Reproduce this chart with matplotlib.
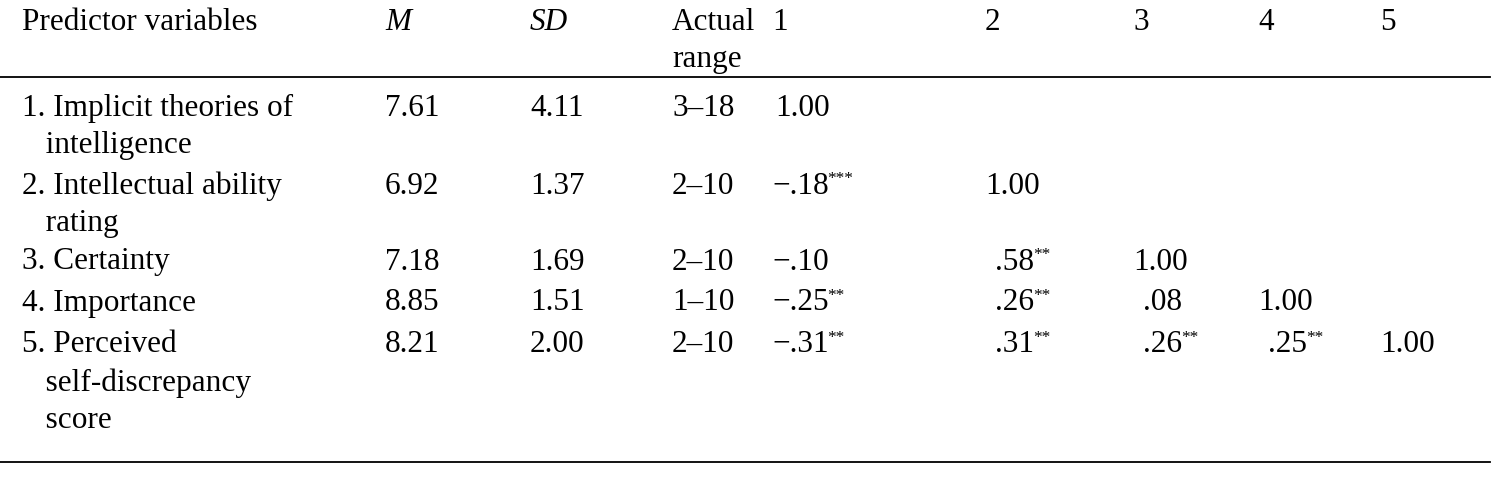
import matplotlib
matplotlib.use("Agg")
import matplotlib.pyplot as plt

plt.rcParams["font.family"] = ["Liberation Serif", "DejaVu Serif"]

predictors = [["1. Implicit theories of", "   intelligence"],
              ["2. Intellectual ability", "   rating"],
              ["3. Certainty"],
              ["4. Importance"],
              ["5. Perceived", "   self-discrepancy", "   score"]]
means = ["7.61", "6.92", "7.18", "8.85", "8.21"]
sds = ["4.11", "1.37", "1.69", "1.51", "2.00"]
ranges = ["3\u201318", "2\u201310", "2\u201310", "1\u201310", "2\u201310"]
# correlations (row, col) -> (value text, stars)
corr = [
    [("1.00", "")],
    [("\u2212.18", "***"), ("1.00", "")],
    [("\u2212.10", ""), (".58", "**"), ("1.00", "")],
    [("\u2212.25", "**"), (".26", "**"), (".08", ""), ("1.00", "")],
    [("\u2212.31", "**"), (".31", "**"), (".26", "**"), (".25", "**"), ("1.00", "")],
]

W, H = 1502, 496
fig = plt.figure(figsize=(W / 100, H / 100), dpi=100)
ax = fig.add_axes([0, 0, 1, 1])
ax.set_xlim(0, W)
ax.set_ylim(H, 0)
ax.axis("off")

fs = 22.5
col_x = [22, 385, 530, 672, 772, 985, 1133, 1258, 1380]
row_y = [108, 186, 262, 303, 345]
line_h = 38

def txt(x, y, s, **kw):
    return ax.text(x, y, s, fontsize=fs, va="center", ha="left", **kw)

# header
txt(col_x[0], 22, "Predictor variables")
txt(col_x[1], 22, "M", style="italic")
txt(col_x[2], 22, "SD", style="italic")
txt(col_x[3], 22, "Actual")
txt(col_x[3], 60, "range")
for i in range(5):
    txt(col_x[4 + i], 22, str(i + 1))

ax.plot([0, 1490], [77, 77], color="black", lw=1.3)
ax.plot([0, 1490], [462, 462], color="black", lw=1.3)

stars = []
for r in range(5):
    y = row_y[r]
    for k, line in enumerate(predictors[r]):
        txt(col_x[0], y + k * line_h, line)
    txt(col_x[1], y, means[r])
    txt(col_x[2], y, sds[r])
    txt(col_x[3], y, ranges[r])
    for c, (val, st) in enumerate(corr[r]):
        x = col_x[4 + c]
        if not val.startswith("\u2212") and val != "1.00":
            x += 10
        elif val == "1.00" and c == 0:
            x += 3
        t = txt(x, y, val)
        if st:
            stars.append((t, st, y))

fig.canvas.draw()
renderer = fig.canvas.get_renderer()
inv = ax.transData.inverted()
for t, st, y in stars:
    bb = t.get_window_extent(renderer)
    x1, _ = inv.transform((bb.x1, bb.y0))
    ax.text(x1 - 1, y - 7, st, fontsize=fs * 0.55, va="center", ha="left")

fig.savefig("out.png", dpi=100)
